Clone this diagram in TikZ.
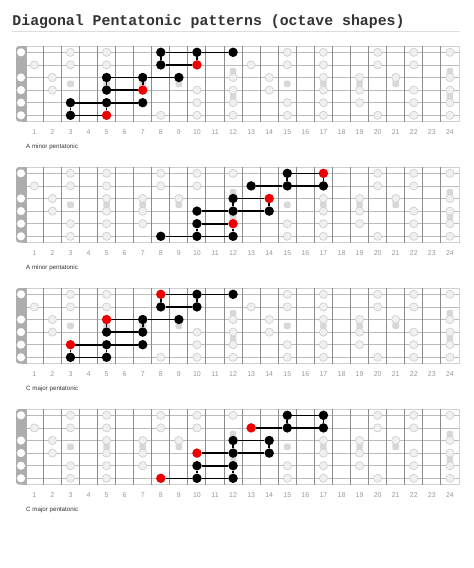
\documentclass[tikz,border=0pt]{standalone}
\usepackage{fontspec}
\setmainfont{Liberation Sans}
\newfontfamily\titlefont{Liberation Mono}
\pgfdeclarelayer{paperlayer}
\pgfdeclarelayer{boardlayer}
\pgfdeclarelayer{linklayer}
\pgfsetlayers{paperlayer,boardlayer,linklayer,main}
\definecolor{fretc}{HTML}{8C8C8C}
\definecolor{strc}{HTML}{BCBCBC}
\definecolor{edgec}{HTML}{D0D0D0}
\definecolor{nutc}{HTML}{ADADAD}
\definecolor{bgfill}{HTML}{F0F0F0}
\definecolor{bgdraw}{HTML}{CCCCCC}
\definecolor{inlayc}{HTML}{D8D8D8}
\definecolor{rootc}{HTML}{EE0000}
\definecolor{numc}{HTML}{9A9A9A}
\definecolor{capc}{HTML}{333333}
\definecolor{titlec}{HTML}{333333}
\definecolor{rulec}{HTML}{DDDDDD}
\newcommand{\drawpattern}[3]{%
  \pgfmathsetmacro\py{52.3+121*#1}%
  \foreach \r/\f/\c in {#2}{\node[playnote,fill=\c] (p#1-\r-\f) at ({16.245+\f*18.07},{\py+(\r-1)*12.6}) {};}%
  \begin{pgfonlayer}{linklayer}%
  \foreach \u/\v in {#3}{\draw[link] (p#1-\u) -- (p#1-\v);}%
  \end{pgfonlayer}%
}
\begin{document}
\begin{tikzpicture}[x=1pt,y=-1pt,
  scalenote/.style={circle,inner sep=0pt,minimum size=8.2pt,fill=bgfill,draw=bgdraw,line width=0.6pt},
  opennote/.style={circle,inner sep=0pt,minimum size=8.2pt,fill=white,draw=none},
  playnote/.style={circle,inner sep=0pt,minimum size=9.4pt,draw=none},
  link/.style={line width=1.6pt,black},
  inlay/.style={rectangle,rounded corners=1.5pt,inner sep=0pt,minimum size=6.6pt,fill=inlayc},
  stringline/.style={strc,line width=0.7pt},
  fretline/.style={fretc,line width=1pt},
  edgeline/.style={edgec,line width=0.8pt},
  fretnum/.style={font=\fontsize{7}{8}\selectfont,text=numc,anchor=base,inner sep=0pt},
  capstyle/.style={font=\fontsize{6.2}{7}\selectfont,text=capc,anchor=base west,inner sep=0pt},
  titlestyle/.style={font=\titlefont\bfseries\fontsize{14.85}{16}\selectfont,text=titlec,anchor=base west,inner sep=0pt},
]
\useasboundingbox (0,0) rectangle (474,568);
\begin{pgfonlayer}{paperlayer}
\fill[white] (0,0) rectangle (474,568);
\end{pgfonlayer}
\node[titlestyle] (title) at (12.3,25.5) {Diagonal Pentatonic patterns (octave shapes)};
\draw[rulec,line width=1pt] (12,31.7) -- (460,31.7);
\foreach \b/\captxt in {0/A minor pentatonic,1/A minor pentatonic,2/C major pentatonic,3/C major pentatonic}{
  \pgfmathsetmacro\by{52.3+121*\b}
  \pgfmathsetmacro\ytop{\by-6.3}
  \pgfmathsetmacro\ybot{\by+69.3}
  \begin{pgfonlayer}{boardlayer}
    \foreach \r in {0,...,5} \draw[stringline] (26,{\by+\r*12.6}) -- (459,{\by+\r*12.6});
    \draw[edgeline] (26,\ytop) -- (459,\ytop) -- (459,\ybot) -- (26,\ybot);
    \foreach \k in {1,...,23} \draw[fretline] ({25.28+\k*18.07},\ytop) -- ({25.28+\k*18.07},\ybot);
    \fill[nutc,rounded corners=3pt] (16,\ytop) rectangle (26.5,\ybot);
    \fill[nutc] (22,\ytop) rectangle (26.5,\ybot);
    \foreach \f in {3,5,7,9,15,17,19,21} \node[inlay] (in\b-\f) at ({16.245+\f*18.07},{\by+31.5}) {};
    \foreach \f in {12,24} {
      \node[inlay] (ina\b-\f) at ({16.245+\f*18.07},{\by+18.9}) {};
      \node[inlay] (inb\b-\f) at ({16.245+\f*18.07},{\by+44.1}) {};
    }
    \foreach \r/\fl in {1/{0,3,5,8,10,12,15,17,20,22,24},2/{1,3,5,8,10,13,15,17,20,22},3/{0,2,5,7,9,12,14,17,19,21,24},4/{0,2,5,7,10,12,14,17,19,22,24},5/{0,3,5,7,10,12,15,17,19,22,24},6/{0,3,5,8,10,12,15,17,20,22,24}}{
      \foreach \f in \fl {
        \ifnum\f=0
          \node[opennote] (s\b-\r-\f) at (21,{\by+(\r-1)*12.6}) {};
        \else
          \node[scalenote] (s\b-\r-\f) at ({16.245+\f*18.07},{\by+(\r-1)*12.6}) {};
        \fi
      }
    }
  \end{pgfonlayer}
  \foreach \n in {1,...,24} \node[fretnum] (num\b-\n) at ({16.245+\n*18.07},{\by+81.9}) {\n};
  \node[capstyle] (cap\b) at (26,{\by+96.2}) {\captxt};
}
\drawpattern{0}{1/8/black,1/10/black,1/12/black,2/8/black,2/10/rootc,3/5/black,3/7/black,3/9/black,4/5/black,4/7/rootc,5/3/black,5/5/black,5/7/black,6/3/black,6/5/rootc}{1-8/1-10,1-10/1-12,2-8/2-10,1-8/2-8,1-10/2-10,3-5/3-7,3-7/3-9,4-5/4-7,3-5/4-5,3-7/4-7,5-3/5-5,5-5/5-7,6-3/6-5,5-3/6-3,5-5/6-5}
\drawpattern{1}{1/15/black,1/17/rootc,2/13/black,2/15/black,2/17/black,3/12/black,3/14/rootc,4/10/black,4/12/black,4/14/black,5/10/black,5/12/rootc,6/8/black,6/10/black,6/12/black}{1-15/1-17,2-13/2-15,2-15/2-17,1-15/2-15,1-17/2-17,3-12/3-14,4-10/4-12,4-12/4-14,3-12/4-12,3-14/4-14,5-10/5-12,6-8/6-10,6-10/6-12,5-10/6-10,5-12/6-12}
\drawpattern{2}{1/8/rootc,1/10/black,1/12/black,2/8/black,2/10/black,3/5/rootc,3/7/black,3/9/black,4/5/black,4/7/black,5/3/rootc,5/5/black,5/7/black,6/3/black,6/5/black}{1-8/1-10,1-10/1-12,2-8/2-10,1-8/2-8,1-10/2-10,3-5/3-7,3-7/3-9,4-5/4-7,3-5/4-5,3-7/4-7,5-3/5-5,5-5/5-7,6-3/6-5,5-3/6-3,5-5/6-5}
\drawpattern{3}{1/15/black,1/17/black,2/13/rootc,2/15/black,2/17/black,3/12/black,3/14/black,4/10/rootc,4/12/black,4/14/black,5/10/black,5/12/black,6/8/rootc,6/10/black,6/12/black}{1-15/1-17,2-13/2-15,2-15/2-17,1-15/2-15,1-17/2-17,3-12/3-14,4-10/4-12,4-12/4-14,3-12/4-12,3-14/4-14,5-10/5-12,6-8/6-10,6-10/6-12,5-10/6-10,5-12/6-12}
\end{tikzpicture}
\end{document}
